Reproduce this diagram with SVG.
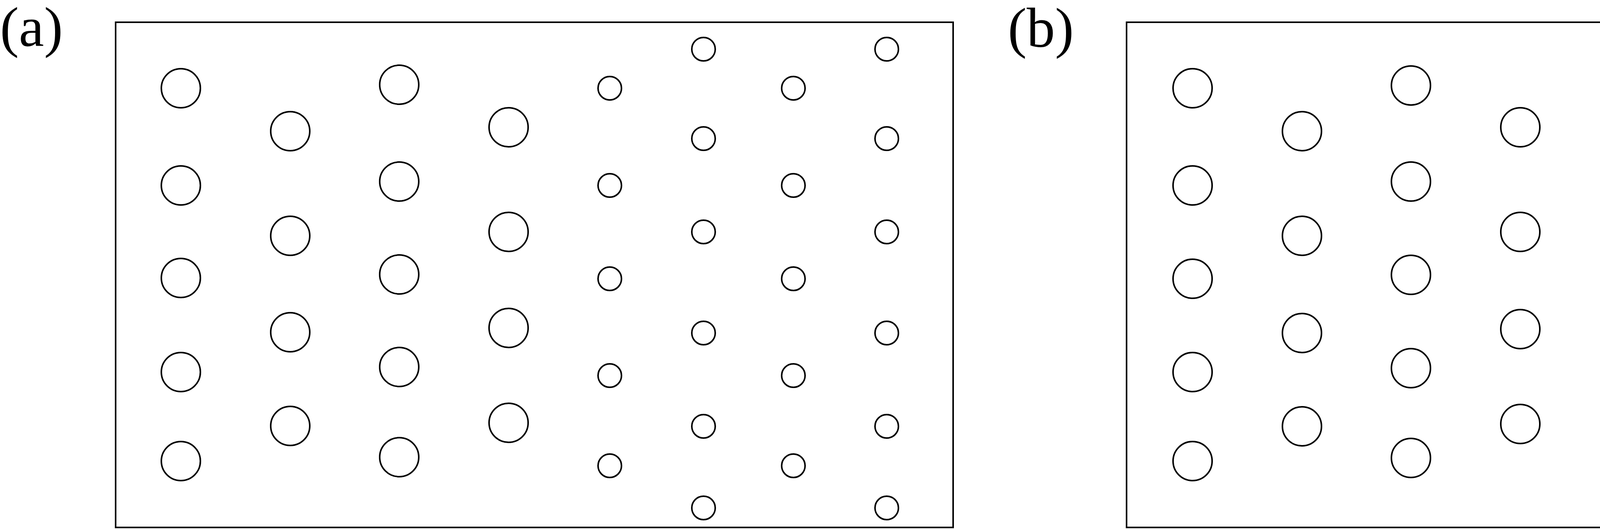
<svg xmlns="http://www.w3.org/2000/svg" width="5162" height="1355" viewBox="0 0 5162 1355">
<style>
.f{fill:none;stroke:#000;stroke-width:4}
.l{font-family:"Liberation Serif",serif;font-size:145px;fill:#000}
</style>
<rect width="5162" height="1355" fill="#fff"/>
<text class="l" x="0" y="118">(a)</text>
<text class="l" x="2580" y="120">(b)</text>
<g id="panel-a">
<rect class="f" x="296" y="57" width="2144" height="1294"/>
<g id="a-c1"><circle class="f" cx="463" cy="226" r="50"/><circle class="f" cx="463" cy="475" r="50"/><circle class="f" cx="463" cy="712" r="50"/><circle class="f" cx="463" cy="953" r="50"/><circle class="f" cx="463" cy="1181" r="50"/></g>
<g id="a-c2"><circle class="f" cx="743" cy="336" r="50"/><circle class="f" cx="743" cy="604" r="50"/><circle class="f" cx="743" cy="851" r="50"/><circle class="f" cx="743" cy="1091" r="50"/></g>
<g id="a-c3"><circle class="f" cx="1022" cy="217" r="50"/><circle class="f" cx="1022" cy="465" r="50"/><circle class="f" cx="1022" cy="703" r="50"/><circle class="f" cx="1022" cy="940" r="50"/><circle class="f" cx="1022" cy="1171" r="50"/></g>
<g id="a-c4"><circle class="f" cx="1302" cy="326" r="50"/><circle class="f" cx="1302" cy="594" r="50"/><circle class="f" cx="1302" cy="840" r="50"/><circle class="f" cx="1302" cy="1083" r="50"/></g>
<g id="a-c5"><circle class="f" cx="1561" cy="226" r="30"/><circle class="f" cx="1561" cy="475" r="30"/><circle class="f" cx="1561" cy="714" r="30"/><circle class="f" cx="1561" cy="962" r="30"/><circle class="f" cx="1561" cy="1193" r="30"/></g>
<g id="a-c6"><circle class="f" cx="1801" cy="126" r="30"/><circle class="f" cx="1801" cy="355" r="30"/><circle class="f" cx="1801" cy="594" r="30"/><circle class="f" cx="1801" cy="853" r="30"/><circle class="f" cx="1801" cy="1092" r="30"/><circle class="f" cx="1801" cy="1301" r="30"/></g>
<g id="a-c7"><circle class="f" cx="2031" cy="226" r="30"/><circle class="f" cx="2031" cy="475" r="30"/><circle class="f" cx="2031" cy="714" r="30"/><circle class="f" cx="2031" cy="962" r="30"/><circle class="f" cx="2031" cy="1193" r="30"/></g>
<g id="a-c8"><circle class="f" cx="2270" cy="126" r="30"/><circle class="f" cx="2270" cy="355" r="30"/><circle class="f" cx="2270" cy="594" r="30"/><circle class="f" cx="2270" cy="853" r="30"/><circle class="f" cx="2270" cy="1092" r="30"/><circle class="f" cx="2270" cy="1301" r="30"/></g>
</g>
<g id="panel-b">
<rect class="f" x="2884" y="57" width="2275" height="1294"/>
<g id="b-c1"><circle class="f" cx="3053" cy="226" r="50"/><circle class="f" cx="3053" cy="475" r="50"/><circle class="f" cx="3053" cy="714" r="50"/><circle class="f" cx="3053" cy="953" r="50"/><circle class="f" cx="3053" cy="1181" r="50"/></g>
<g id="b-c2"><circle class="f" cx="3333" cy="336" r="50"/><circle class="f" cx="3333" cy="604" r="50"/><circle class="f" cx="3333" cy="853" r="50"/><circle class="f" cx="3333" cy="1092" r="50"/></g>
<g id="b-c3"><circle class="f" cx="3612" cy="219" r="50"/><circle class="f" cx="3612" cy="465" r="50"/><circle class="f" cx="3612" cy="704" r="50"/><circle class="f" cx="3612" cy="943" r="50"/><circle class="f" cx="3612" cy="1173" r="50"/></g>
<g id="b-c4"><circle class="f" cx="3892" cy="326" r="50"/><circle class="f" cx="3892" cy="594" r="50"/><circle class="f" cx="3892" cy="843" r="50"/><circle class="f" cx="3892" cy="1086" r="50"/></g>
<g id="b-c5"><rect class="f" x="4130" y="169" width="97" height="103"/><rect class="f" x="4130" y="420" width="97" height="103"/><rect class="f" x="4130" y="653" width="97" height="104"/><rect class="f" x="4130" y="894" width="97" height="103"/><rect class="f" x="4130" y="1121" width="97" height="103"/></g>
<g id="b-c6"><rect class="f" x="4409" y="296" width="97" height="103"/><rect class="f" x="4409" y="543" width="97" height="103"/><rect class="f" x="4409" y="806" width="97" height="103"/><rect class="f" x="4409" y="1041" width="97" height="103"/></g>
<g id="b-c7"><rect class="f" x="4689" y="169" width="97" height="103"/><rect class="f" x="4689" y="420" width="97" height="103"/><rect class="f" x="4689" y="653" width="97" height="104"/><rect class="f" x="4689" y="894" width="97" height="103"/><rect class="f" x="4689" y="1121" width="97" height="103"/></g>
<g id="b-c8"><rect class="f" x="4968" y="296" width="97" height="103"/><rect class="f" x="4968" y="543" width="97" height="103"/><rect class="f" x="4968" y="806" width="97" height="103"/><rect class="f" x="4968" y="1041" width="97" height="103"/></g>
</g>
<g id="connectors"/>
</svg>
